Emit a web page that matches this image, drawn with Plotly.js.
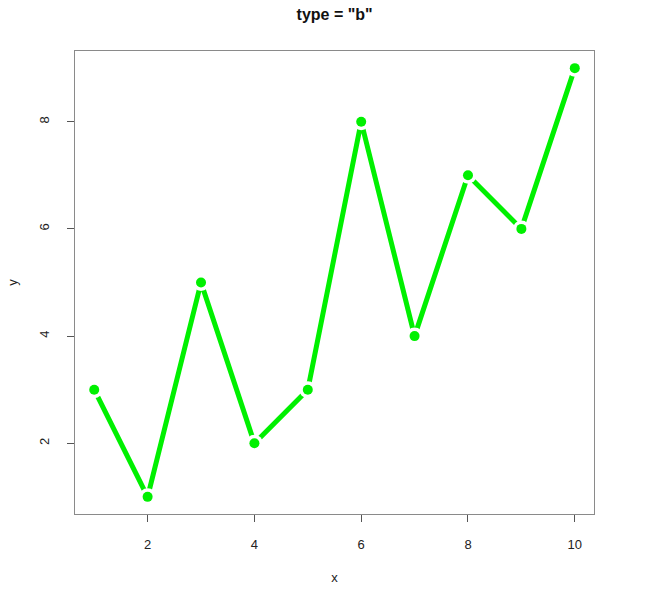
<!DOCTYPE html>
<html>
<head>
<meta charset="utf-8">
<script src="https://cdn.plot.ly/plotly-3.0.1.min.js"></script>
<style>html,body{margin:0;padding:0;background:#fff;}#chart{width:646px;height:589px;}</style>
</head>
<body>
<div id="chart"></div>
<script>
const xValues = [1, 2, 3, 4, 5, 6, 7, 8, 9, 10];
const yValues = [3, 1, 5, 2, 3, 8, 4, 7, 6, 9];
const xTicks = [2, 4, 6, 8, 10];
const yTicks = [2, 4, 6, 8];
const chartTitle = 'type = "b"';

const green = '#00f000';
const traces = [
  {x: xValues, y: yValues, mode: 'lines', line: {color: green, width: 5}, hoverinfo: 'skip'},
  {x: xValues, y: yValues, mode: 'markers', marker: {color: '#ffffff', size: 17}, hoverinfo: 'skip'},
  {x: xValues, y: yValues, mode: 'markers', marker: {color: green, size: 10}}
];
const axisFont = {family: 'Liberation Sans, Arial, sans-serif', size: 13, color: '#222'};
const layout = {
  width: 646, height: 589,
  margin: {l: 75, r: 52, t: 51, b: 75},
  paper_bgcolor: '#fff', plot_bgcolor: '#fff',
  showlegend: false,
  title: {text: '<b>' + chartTitle + '</b>', x: 0.518, xanchor: 'center', y: 0.976, yanchor: 'middle',
    font: {family: 'Liberation Sans, Arial, sans-serif', size: 16, color: '#111'}},
  xaxis: {
    range: [0.64, 10.36], tickvals: xTicks, ticktext: xTicks.map(String),
    showgrid: false, zeroline: false, showline: true, mirror: true, linecolor: '#8a8a8a', linewidth: 1,
    ticks: 'outside', ticklen: 7, tickcolor: '#555', tickfont: axisFont, ticklabelstandoff: 11,
    title: {text: 'x', font: axisFont, standoff: 22}
  },
  yaxis: {
    range: [0.68, 9.32], tickvals: yTicks, ticktext: yTicks.map(String), tickangle: -90,
    showgrid: false, zeroline: false, showline: true, mirror: true, linecolor: '#8a8a8a', linewidth: 1,
    ticks: 'outside', ticklen: 7, tickcolor: '#555', tickfont: axisFont, ticklabelstandoff: 13,
    title: {text: 'y', font: axisFont, standoff: 16}
  }
};
Plotly.newPlot('chart', traces, layout, {displayModeBar: false, staticPlot: true});
</script>
</body>
</html>
